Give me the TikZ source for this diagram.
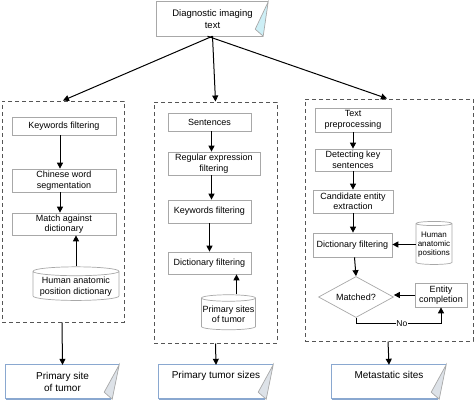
\documentclass[tikz,border=0pt]{standalone}
\usepackage{fontspec}
\setmainfont{Liberation Sans}
\usetikzlibrary{shapes.geometric,arrows.meta,calc}
\definecolor{boxgray}{HTML}{A8A8A8}
\definecolor{dashgray}{HTML}{555555}
\definecolor{docblue}{HTML}{8AA8D0}
\definecolor{curlgray}{HTML}{DDE2E8}
\definecolor{curlcyan}{HTML}{CDEFF6}
\tikzset{
  proc/.style={draw=boxgray, line width=0.7pt, fill=white, inner sep=1pt, align=center,
    font=\fontsize{9}{10.5}\selectfont},
  dbase/.style={cylinder, shape border rotate=90, draw=boxgray, line width=0.7pt, fill=white,
    aspect=0.12, inner sep=1pt, align=center, font=\fontsize{9}{10.5}\selectfont},
  group/.style={draw=dashgray, line width=1pt, dash pattern=on 4pt off 3pt},
  outdoc/.style={inner sep=1pt, align=center, font=\fontsize{10}{12}\selectfont,
    minimum height=34pt},
  arr/.style={-{Triangle[length=6pt,width=6pt]}, line width=1pt, black},
  docline/.style={draw=docblue, line width=0.9pt},
  docbottom/.style={draw=docblue, line width=2pt},
  curl/.style={draw=boxgray, line width=0.7pt}
}
\begin{document}
\begin{tikzpicture}[x=1pt,y=-1pt]
\useasboundingbox (0,0) rectangle (474,402);
% top node
\node[inner sep=1pt, align=center, font=\fontsize{9.5}{11.5}\selectfont, minimum width=111pt, minimum height=34pt] (top) at (212.5,19) {Diagnostic imaging\\text};
\draw[draw=boxgray,line width=0.8pt] ([xshift=-5pt]top.south east) -- (top.south west) -- (top.north west) -- (top.north east);
\filldraw[curl, fill=curlcyan] (top.north east) -- ([xshift=-13pt,yshift=7pt]top.south east) -- ([xshift=-5pt]top.south east) -- cycle;

% groups
\node[group, minimum width=122pt, minimum height=221pt] (g1) at (63,211.5) {};
\node[group, minimum width=123pt, minimum height=241pt] (g2) at (215.5,222.5) {};
\node[group, minimum width=168pt, minimum height=242pt] (g3) at (389,220) {};

\draw[arr] (top.south) -- (g1.north);
\draw[arr] (top.south) -- (g2.north);
\draw[arr] ([xshift=-5pt]top.south) -- ([xshift=-2pt]g3.north);

% left column
\node[proc, minimum width=104pt, minimum height=18pt] (k1) at (64,126) {Keywords filtering};
\node[proc, minimum width=104pt, minimum height=23pt] (c1) at (64,180.5) {Chinese word\\segmentation};
\node[proc, minimum width=104pt, minimum height=22pt] (m1) at (64,224) {Match against\\dictionary};
\node[dbase, minimum width=86pt, minimum height=27pt] (cy1) at (76,286.5) {Human anatomic\\position dictionary};
\draw[arr, line width=0.8pt] ([xshift=-4pt]k1.south) -- ([xshift=-4pt]c1.north);
\draw[arr] ([xshift=-4pt]c1.south) -- ([xshift=-4pt]m1.north);
\draw[arr] (cy1.north) -- (cy1.north |- m1.south);

% middle column
\node[proc, minimum width=83pt, minimum height=18pt] (s2) at (209.5,122) {Sentences};
\node[proc, minimum width=92pt, minimum height=23pt] (r2) at (214,163.5) {Regular expression\\filtering};
\node[proc, minimum width=83pt, minimum height=23pt] (k2) at (209.5,211.5) {Keywords filtering};
\node[proc, minimum width=83pt, minimum height=22pt] (d2) at (209.5,263) {Dictionary filtering};
\node[dbase, minimum width=47pt, minimum height=35pt] (cy2) at (228.5,314.5) {Primary sites\\of tumor};
\draw[arr] ([xshift=2pt]s2.south) -- ([xshift=2pt]s2.south |- r2.north);
\draw[arr] ([xshift=2pt]s2.south |- r2.south) -- ([xshift=2pt]k2.north);
\draw[arr] (k2.south) -- (d2.north);
\draw[arr] ([xshift=8pt]cy2.north) -- ([xshift=8pt]cy2.north |- d2.south);

% right column
\node[proc, minimum width=76pt, minimum height=24pt] (t3) at (353,120) {Text\\preprocessing};
\node[proc, minimum width=76pt, minimum height=22pt] (de3) at (353,160) {Detecting key\\sentences};
\node[proc, minimum width=80pt, minimum height=23pt] (ca3) at (353,201.5) {Candidate entity\\extraction};
\node[proc, minimum width=79pt, minimum height=24pt] (df3) at (352.5,245) {Dictionary filtering};
\node[dbase, font=\fontsize{8}{9}\selectfont, minimum width=36pt, minimum height=43pt] (cy3) at (434,244.5) {Human\\anatomic\\positions};
\node[diamond, draw=boxgray, line width=0.7pt, fill=white, inner sep=0pt, aspect=1.83,
  minimum width=75pt, minimum height=41pt, font=\fontsize{9}{10.5}\selectfont] (mt3) at (356,297) {Matched?};
\node[proc, minimum width=52pt, minimum height=24pt] (ec3) at (441,295) {Entity\\completion};
\draw[arr] (t3.south) -- (de3.north);
\draw[arr] (de3.south) -- (ca3.north);
\draw[arr] (ca3.south) -- (ca3.south |- df3.north);
\draw[arr] ([xshift=2pt]df3.south) -- (mt3.north);
\draw[arr] (cy3.west) -- (cy3.west -| df3.east);
\draw[arr] (ec3.west) -- (ec3.west -| mt3.east);
\draw[arr, line width=0.8pt] (mt3.south) -- ++(0,6) -| (ec3.south)
  node[pos=0.27, fill=white, inner sep=0.5pt, font=\fontsize{8.5}{10}\selectfont] (no) {No};

% outputs
\node[outdoc, minimum width=113pt] (o1) at (62.5,382) {Primary site\\of tumor};
\node[outdoc, minimum width=114pt] (o2) at (216,382) {Primary tumor sizes\\\phantom{y}};
\node[outdoc, minimum width=114pt] (o3) at (389,382) {Metastatic sites\\\phantom{y}};
\foreach \o in {o1,o2,o3}{
  \draw[docline] (\o.south west) -- (\o.north west) -- (\o.north east);
  \draw[docbottom] (\o.south west) -- ([xshift=-8pt]\o.south east);
  \filldraw[curl, fill=curlgray] (\o.north east) -- ([xshift=-15pt,yshift=7pt]\o.south east) -- ([xshift=-7pt]\o.south east) -- cycle;
}
\draw[arr] ([xshift=-1pt]g1.south) -- (o1.north);
\draw[arr] (g2.south) -- (o2.north);
\draw[arr] ([xshift=-1pt]g3.south) -- (o3.north);
\end{tikzpicture}
\end{document}
